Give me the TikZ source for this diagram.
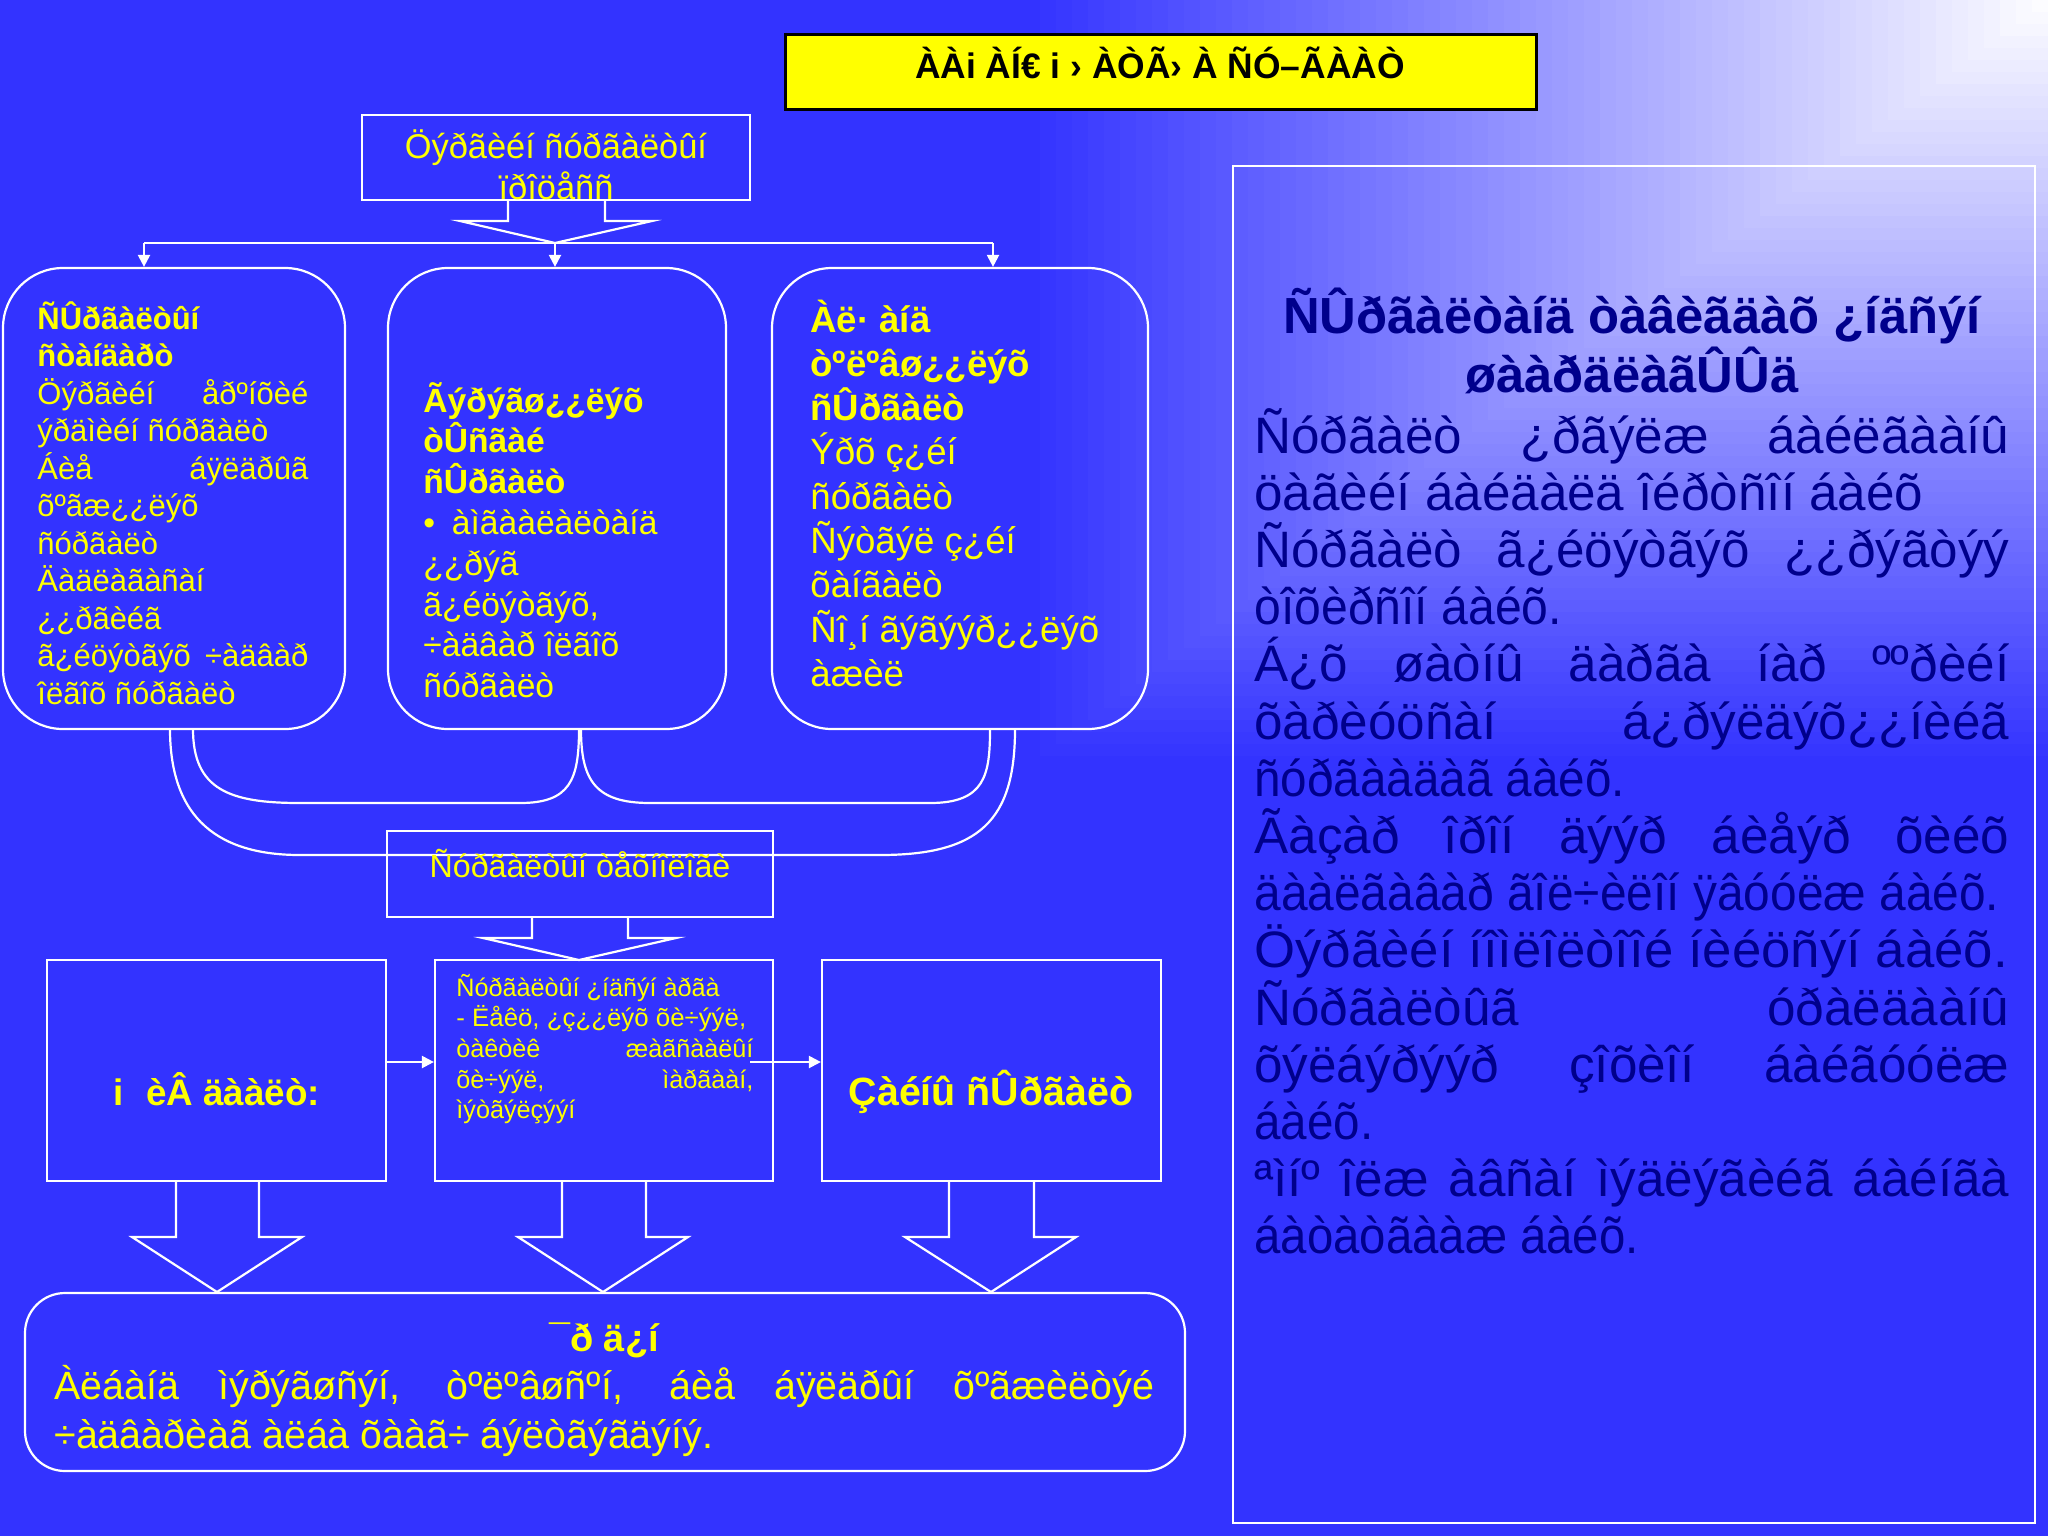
\documentclass[tikz,border=0pt]{standalone}
\usepackage{fontspec}
\usepackage{graphicx}
\setmainfont{Liberation Sans}
\usetikzlibrary{arrows.meta,fit}
\definecolor{bgblue}{RGB}{51,51,255}
\definecolor{yel}{RGB}{255,255,0}
\definecolor{navy}{RGB}{0,0,140}
\newlength\jlw
\newcommand\ns[1]{\spaceskip=0pt\xspaceskip=0pt\relax\setlength\jlw{#1}}
\newcommand\jl[1]{\makebox[\jlw][s]{\spaceskip=.28em plus 1fil\relax #1}}
\newcommand\sx[2]{\scalebox{#1}[1]{#2}}
\begin{document}
\begin{tikzpicture}[x=0.5pt,y=-0.5pt,
  wline/.style={draw=white,line width=1.1pt},
  wbox/.style={wline,inner sep=0pt},
  rbox/.style={wbox,rounded corners=30pt},
  arr/.style={white,line width=1.1pt,-{Triangle[length=6pt,width=6pt]}},
  blk/.style={wline,line join=miter},
  ytxt/.style={text=yel,inner sep=0pt,align=left}
]
\useasboundingbox (0,0) rectangle (2048,1536);
\fill[bgblue] (0,0) rectangle (2048,1536);
\foreach \i in {0,...,63}{
  \pgfmathsetmacro\s{1-\i/64}
  \pgfmathsetmacro\p{100*\s}
  \fill[bgblue!\p!white] ({2048-1024*\s},0) rectangle (2048,{768*\s});
}
% title
\node[draw=black,line width=1.5pt,fill=yel,fit={(785,35)(1536,110)},inner sep=0pt] (title) {};
\node[anchor=base,inner sep=0pt,font=\bfseries\fontsize{17.7}{20}\selectfont] (titletxt) at (1160,79) {ÀÀi ÀÍ€ i › ÀÒÃ› À ÑÓ–ÃÀÀÒ};
% top box
\node[wbox,fit={(362,115)(750,200)}] (top) {};
\node[text=yel,align=center,anchor=base,font=\fontsize{17.2}{20.5}\selectfont,inner sep=0pt] (toptxt) at (556,199) {Öýðãèéí ñóðãàëòûí\\ïðîöåññ};
\draw[blk] (508,200) -- (508,221) -- (460,221) -- (555,243) -- (652,221) -- (605,221) -- (605,200);
% three rounded boxes
\node[rbox,fit={(3,268)(345,729)}] (b1) {};
\node[rbox,fit={(388,268)(726,729)}] (b2) {};
\node[rbox,fit={(772,268)(1148,729)}] (b3) {};
\coordinate (c1) at (144,243);
\coordinate (c2) at (555,243);
\coordinate (c3) at (993,243);
\draw[wline] (c1) -- (c3);
\draw[arr] (c1) -- (c1 |- b1.north);
\draw[arr] (c2) -- (c2 |- b2.north);
\draw[arr] (c3) -- (c3 |- b3.north);
\node[ytxt,anchor=base west,text width=150pt,font=\fontsize{15.5}{18.75}\selectfont] (t1) at (37,329) {\ns{135.5pt}%
{\bfseries ÑÛðãàëòûí}\\
{\bfseries ñòàíäàðò}\\
\jl{Öýðãèéí åðºíõèé}\\
ýðäìèéí ñóðãàëò\\
\jl{Áèå áÿëäðûã}\\
õºãæ¿¿ëýõ\\
ñóðãàëò\\
Äàäëàãàñàí\\
¿¿ðãèéã\\
\jl{ã¿éöýòãýõ ÷àäâàð}\\
îëãîõ ñóðãàëò};
\node[ytxt,anchor=base west,text width=150pt,font=\fontsize{16.8}{20.4}\selectfont] (t2) at (423,412) {\ns{150pt}%
{\bfseries Ãýðýãø¿¿ëýõ}\\
{\bfseries òÛñãàé}\\
{\bfseries ñÛðãàëò}\\
•\hspace{0.5em}àìãààëàëòàíä\\
¿¿ðýã\\
ã¿éöýòãýõ,\\
÷àäâàð îëãîõ\\
ñóðãàëò};
\node[ytxt,anchor=base west,text width=165pt,font=\fontsize{18.3}{22.15}\selectfont] (t3) at (810,332) {\ns{165pt}%
{\bfseries Àë· àíä}\\
{\bfseries òºëºâø¿¿ëýõ}\\
{\bfseries ñÛðãàëò}\\
Ýðõ ç¿éí\\
ñóðãàëò\\
Ñýòãýë ç¿éí\\
õàíãàëò\\
Ñî¸í ãýãýýð¿¿ëýõ\\
àæèë};
% merging curves
\draw[wline] (193,729) .. controls (193,790) and (230,803) .. (300,803) -- (520,803) .. controls (570,803) and (579,780) .. (579,729);
\draw[wline] (581,729) .. controls (581,780) and (595,803) .. (650,803) -- (930,803) .. controls (985,803) and (990,775) .. (990,729);
\draw[wline] (170,729) .. controls (170,820) and (220,855) .. (300,855) -- (880,855) .. controls (980,855) and (1015,820) .. (1015,729);
% technology box
\node[wbox,fit={(387,831)(773,917)}] (tech) {};
\node[text=yel,anchor=base,font=\fontsize{16.1}{18}\selectfont,inner sep=0pt] (techtxt) at (580,877) {Ñóðãàëòûí òåõíîëîãè};
\draw[blk] (532,917) -- (532,938) -- (483,938) -- (579,960) -- (676,938) -- (628,938) -- (628,917);
% row of boxes
\node[wbox,fit={(47,960)(386,1181)}] (r1) {};
\node[wbox,fit={(435,960)(773,1181)}] (r2) {};
\node[wbox,fit={(822,960)(1161,1181)}] (r3) {};
\node[text=yel,anchor=base,inner sep=0pt,font=\bfseries\fontsize{18.4}{22}\selectfont] (r1txt) at (217,1105) {i\hspace{0.6em}èÂ äààëò:};
\node[text=yel,anchor=base,inner sep=0pt,font=\bfseries\fontsize{19.7}{22}\selectfont] (r3txt) at (991,1105) {Çàéíû ñÛðãàëò};
\node[ytxt,anchor=base west,text width=160pt,font=\fontsize{12.6}{15.35}\selectfont] (r2txt) at (456,996) {\ns{148.5pt}%
Ñóðãàëòûí ¿íäñýí àðãà\\
\sx{1.025}{- Ëåêö, ¿ç¿¿ëýõ õè÷ýýë,}\\
\jl{òàêòèê æàãñààëûí}\\
\jl{õè÷ýýë, ìàðãààí,}\\
ìýòãýëçýýí};
\draw[arr] (r1.east |- 0,1062) -- (r2.west |- 0,1062);
\coordinate (m2) at (750,1062);
\draw[arr] (m2) -- (r3.west |- m2);
\draw[blk] (176,1181) -- (176,1237) -- (132,1237) -- (217,1292) -- (302,1237) -- (259,1237) -- (259,1181);
\draw[blk] (562,1181) -- (562,1237) -- (518,1237) -- (603,1292) -- (688,1237) -- (646,1237) -- (646,1181);
\draw[blk] (949,1181) -- (949,1237) -- (905,1237) -- (991,1292) -- (1076,1237) -- (1034,1237) -- (1034,1181);
% bottom box
\node[wbox,rounded corners=20pt,fit={(25,1293)(1185,1471)}] (bot) {};
\node[text=yel,anchor=base,font=\bfseries\fontsize{19}{20}\selectfont,inner sep=0pt] (bottitle) at (604,1351) {¯ð ä¿í};
\node[ytxt,anchor=base west,text width=560pt,font=\fontsize{19.7}{24.5}\selectfont] (botbody) at (54,1399) {\ns{550pt}%
\jl{Àëáàíä ìýðýãøñýí, òºëºâøñºí, áèå áÿëäðûí õºãæèëòýé}\\
÷àäâàðèàã àëáà õààã÷ áýëòãýãäýíý.};
% right panel
\node[wbox,fit={(1233,166)(2035,1523)}] (panel) {};
\node[text=navy,align=center,anchor=base,inner sep=0pt,font=\bfseries\fontsize{25.4}{29.5}\selectfont] (ptitle) at (1632,392) {ÑÛðãàëòàíä òàâèãäàõ ¿íäñýí\\øààðäëàãÛÛä};
\node[text=navy,align=left,anchor=base west,inner sep=0pt,text width=395pt,font=\fontsize{25.6}{28.6}\selectfont] (pbody) at (1254,453) {\ns{377.5pt}%
\jl{Ñóðãàëò ¿ðãýëæ áàéëãààíû}\\
öàãèéí áàéäàëä îéðòñîí áàéõ\\
\jl{Ñóðãàëò ã¿éöýòãýõ ¿¿ðýãòýý}\\
\sx{0.94}{òîõèðñîí áàéõ.}\\
\jl{Á¿õ øàòíû äàðãà íàð ººðèéí}\\
\jl{õàðèóöñàí á¿ðýëäýõ¿¿íèéã}\\
\sx{0.93}{ñóðãààäàã áàéõ.}\\
\jl{Ãàçàð îðîí äýýð áèåýð õèéõ}\\
\sx{0.935}{äààëãàâàð ãîë÷èëîí ÿâóóëæ áàéõ.}\\
\sx{1.03}{Öýðãèéí íîìëîëòîîé íèéöñýí áàéõ.}\\
\jl{Ñóðãàëòûã óðàëäààíû}\\
\jl{õýëáýðýýð çîõèîí áàéãóóëæ}\\
\sx{0.93}{áàéõ.}\\
\jl{ªìíº îëæ àâñàí ìýäëýãèéã áàéíãà}\\
\sx{0.925}{áàòàòãààæ áàéõ.}};
\end{tikzpicture}
\end{document}
